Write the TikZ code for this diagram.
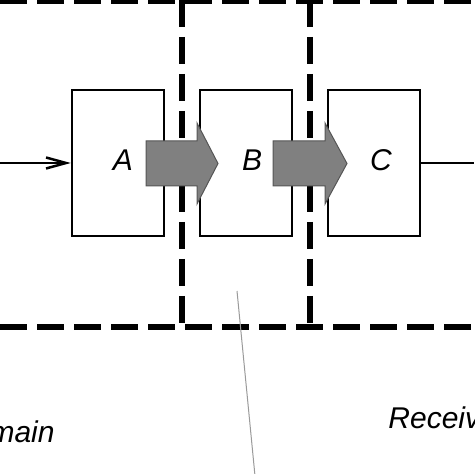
\documentclass[tikz,border=0pt]{standalone}
\usepackage{fontspec}
\setmainfont{Liberation Sans}
\usetikzlibrary{arrows.meta}
\definecolor{arrowfill}{HTML}{808080}
\definecolor{arrowedge}{HTML}{555555}
\definecolor{leader}{HTML}{9A9A9A}
\begin{document}
\begin{tikzpicture}[x=0.5pt,y=-0.5pt,
  box/.style={draw,line width=1.25pt,minimum width=46pt,minimum height=73pt,inner sep=0pt},
  lab/.style={anchor=base,font=\fontsize{15}{18}\selectfont\itshape,inner sep=0pt},
  dline/.style={line width=2.6pt,dash pattern=on 13.5pt off 5pt},
  conn/.style={line width=1.25pt},
  bigarrow/.style={fill=arrowfill,draw=arrowedge,line width=0.5pt},
  domtext/.style={font=\fontsize{15}{18}\selectfont\itshape,inner sep=0pt}]
\useasboundingbox (0,0) rectangle (474,474);
\clip (0,0) rectangle (474,474);
% domain boundaries
\draw[dline] (0,1) -- (474,1);
\draw[dline] (0,327) -- (474,327);
\draw[dline] (182,0) -- (182,327);
\draw[dline] (310,0) -- (310,327);
% boxes
\node[box] (A) at (118,163) {};
\node[box] (B) at (246,163) {};
\node[box] (C) at (374,163) {};
\node[lab] (la) at ([xshift=2.5pt,yshift=-4pt]A.center) {A};
\node[lab] (lb) at ([xshift=3pt,yshift=-4pt]B.center) {B};
\node[lab] (lc) at ([xshift=3.5pt,yshift=-4pt]C.center) {C};
% connectors
\coordinate (in) at (0,163);
\coordinate (out) at (474,163);
\draw[conn,-{Straight Barb[length=10pt,width=5.5pt]}] (in) -- (A.west);
\draw[conn] (C.east) -- (out);
% big gray arrows
\draw[bigarrow] (146,141) -- (197,141) -- (197,123) -- (218,163.5) -- (197,204) -- (197,186) -- (146,186) -- cycle;
\draw[bigarrow] (273,141) -- (325,141) -- (325,123) -- (347,163.5) -- (325,204) -- (325,186) -- (273,186) -- cycle;
% leader line
\coordinate (l1) at (237,291);
\coordinate (l2) at (255,476);
\draw[leader,line width=0.5pt] (l1) -- (l2);
% domain labels
\node[domtext,anchor=base east] (dm) at (55,442) {main};
\node[domtext,anchor=base west] (dr) at (388,428) {Receiv};
\end{tikzpicture}
\end{document}
